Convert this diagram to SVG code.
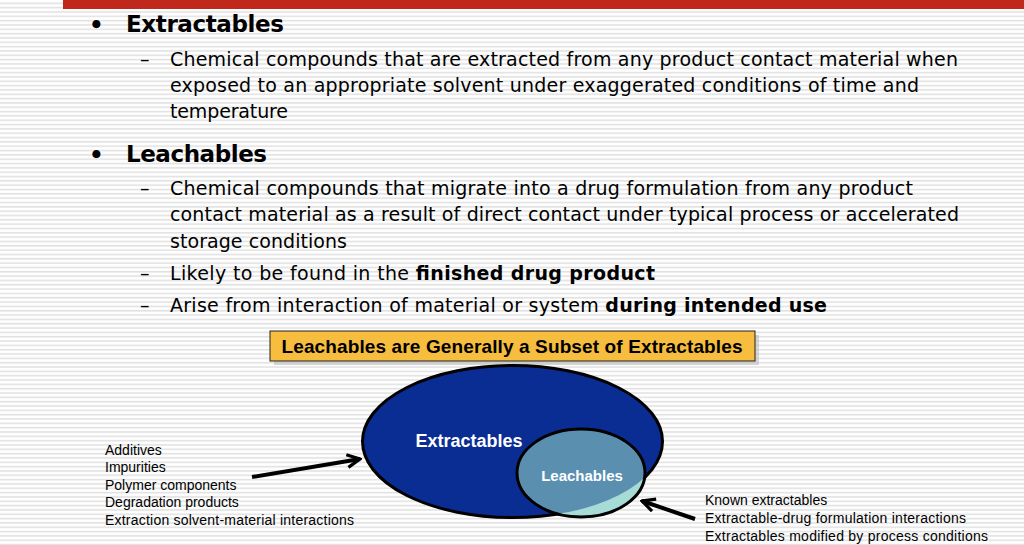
<svg xmlns="http://www.w3.org/2000/svg" width="1024" height="545" viewBox="0 0 1024 545">
<style>
.h{font-family:"DejaVu Sans",sans-serif;font-weight:bold;font-size:23px;fill:#000}
.t{font-family:"DejaVu Sans",sans-serif;font-size:19px;fill:#000}
.s{font-family:"Liberation Sans",Arial,sans-serif;font-size:14px;fill:#000}
.w{font-family:"Liberation Sans",Arial,sans-serif;font-weight:bold;fill:#fff}
</style>
<defs>
<pattern id="st" width="8" height="4.33" patternUnits="userSpaceOnUse"><rect width="8" height="4.33" fill="#fff"/><rect y="2.5" width="8" height="1.6" fill="#e2e2e2"/></pattern>
<marker id="a" viewBox="0 0 10 10" refX="9" refY="5" markerWidth="4" markerHeight="4" orient="auto"><path d="M1,1 L9,5 L1,9" fill="none" stroke="#000" stroke-width="2"/></marker>
<clipPath id="c"><ellipse cx="512.5" cy="441.5" rx="150" ry="76"/></clipPath>
</defs>
<rect width="1024" height="545" fill="url(#st)"/>
<rect x="63" y="0" width="961" height="9" fill="#c0281c"/>
<g id="text">
<text x="89" y="33" class="h">•</text>
<text x="126" y="32" class="h" textLength="158">Extractables</text>
<text x="140" y="66" class="t" textLength="16">–</text>
<text x="170" y="66" class="t" textLength="788">Chemical compounds that are extracted from any product contact material when</text>
<text x="170" y="92" class="t" textLength="749">exposed to an appropriate solvent under exaggerated conditions of time and</text>
<text x="170" y="118" class="t" textLength="118">temperature</text>
<text x="89" y="163" class="h">•</text>
<text x="126" y="162" class="h" textLength="141">Leachables</text>
<text x="140" y="195" class="t" textLength="16">–</text>
<text x="170" y="195" class="t" textLength="743">Chemical compounds that migrate into a drug formulation from any product</text>
<text x="170" y="221" class="t" textLength="789">contact material as a result of direct contact under typical process or accelerated</text>
<text x="170" y="248" class="t" textLength="177">storage conditions</text>
<text x="140" y="280" class="t" textLength="16">–</text>
<text x="170" y="280" class="t" textLength="485">Likely to be found in the <tspan font-weight="bold">finished drug product</tspan></text>
<text x="140" y="312" class="t" textLength="16">–</text>
<text x="170" y="312" class="t" textLength="657">Arise from interaction of material or system <tspan font-weight="bold">during intended use</tspan></text>
</g>
<g id="title">
<rect x="274" y="335" width="485" height="30" fill="#bbb" opacity="0.6"/>
<rect x="270" y="331" width="485" height="30" fill="#f6bd3f" stroke="#222" stroke-width="1"/>
<text x="512" y="353" text-anchor="middle" font-family="Liberation Sans,Arial,sans-serif" font-weight="bold" font-size="19" textLength="461">Leachables are Generally a Subset of Extractables</text>
</g>
<g id="extractables">
<ellipse cx="512.5" cy="441.5" rx="150" ry="76" fill="#0a2d94" stroke="#000" stroke-width="3"/>
<text x="469" y="447" text-anchor="middle" class="w" font-size="18">Extractables</text>
</g>
<g id="leachables">
<ellipse cx="581" cy="473" rx="64" ry="44" fill="#a6dbd6"/>
<ellipse cx="581" cy="473" rx="64" ry="44" fill="#5a8fb0" clip-path="url(#c)"/>
<ellipse cx="581" cy="473" rx="64" ry="44" fill="none" stroke="#000" stroke-width="3"/>
<text x="582" y="481" text-anchor="middle" class="w" font-size="15">Leachables</text>
</g>
<g id="connectors" stroke="#000" stroke-width="4" fill="none">
<line x1="252" y1="477" x2="360" y2="459" marker-end="url(#a)"/>
<line x1="695" y1="519" x2="642" y2="501" marker-end="url(#a)"/>
</g>
<g id="labels">
<text x="105" y="455" class="s">Additives</text>
<text x="105" y="472" class="s">Impurities</text>
<text x="105" y="490" class="s">Polymer components</text>
<text x="105" y="507" class="s">Degradation products</text>
<text x="105" y="525" class="s" textLength="249">Extraction solvent-material interactions</text>
<text x="705" y="505" class="s">Known extractables</text>
<text x="705" y="523" class="s" textLength="261">Extractable-drug formulation interactions</text>
<text x="705" y="541" class="s" textLength="283">Extractables modified by process conditions</text>
</g>
</svg>
